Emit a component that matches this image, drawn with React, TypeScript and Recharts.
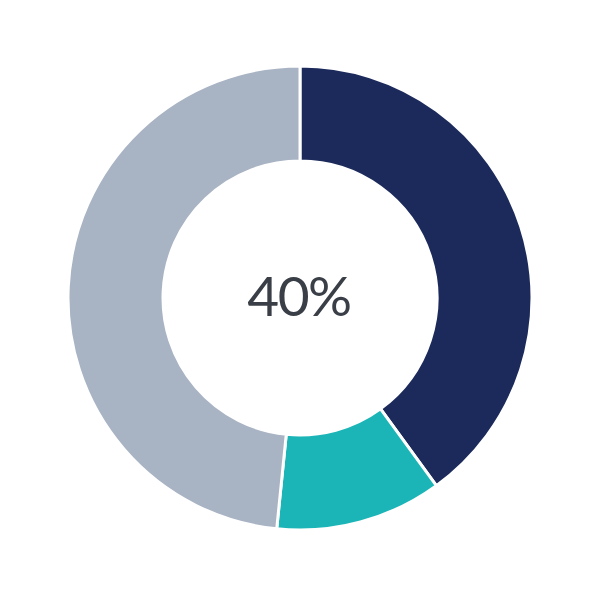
import React from "react";
import { PieChart, Pie, Cell } from "recharts";

const categories = ["A", "B", "C"];
const values = [40, 11.6, 48.4];
const colors = ["#1b2a5b", "#1cb5b7", "#a8b3c3"];
const centerLabel = "40%";

const data = categories.map((name, i) => ({ name, value: values[i] }));

export default function App() {
  return (
    <div style={{ position: "absolute", left: 0, top: 0, width: 600, height: 599, background: "#fff" }}>
      <PieChart width={600} height={599} margin={{ top: 0, right: 0, bottom: 0, left: 0 }}>
        <Pie
          data={data}
          dataKey="value"
          cx={300}
          cy={298}
          innerRadius={137}
          outerRadius={232}
          startAngle={90}
          endAngle={-270}
          stroke="#ffffff"
          strokeWidth={3}
          isAnimationActive={false}
        >
          {data.map((d, i) => (
            <Cell key={d.name} fill={colors[i]} />
          ))}
        </Pie>
        <text
          x={299}
          y={316}
          textAnchor="middle"
          fontFamily="Lato, sans-serif"
          fontSize={55}
          letterSpacing={-1.5}
          fill="#3a3f47"
        >
          {centerLabel}
        </text>
      </PieChart>
    </div>
  );
}
